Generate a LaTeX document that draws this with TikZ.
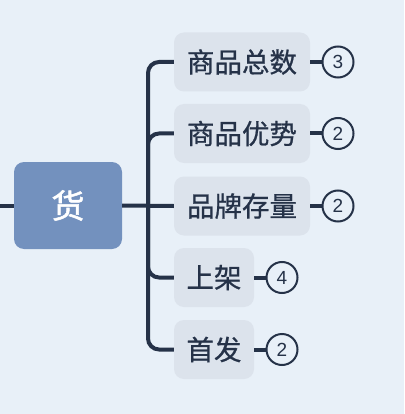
\documentclass[tikz,border=0pt]{standalone}
\usepackage{fontspec}
\newfontfamily\cjk{Noto Sans CJK SC}
\newfontfamily\cjkm[FakeBold=0.8]{Noto Sans CJK SC}
\newfontfamily\cjkb[FakeBold=1.6]{Noto Sans CJK SC}
\newfontfamily\digits{Liberation Sans}
\definecolor{bgc}{RGB}{232,240,248}
\definecolor{mainc}{RGB}{115,145,190}
\definecolor{childc}{RGB}{220,227,236}
\definecolor{inkc}{RGB}{37,50,72}
\tikzset{
  mainbox/.style={fill=mainc, rounded corners=10pt, minimum width=108pt, minimum height=87pt, inner sep=0pt, text=white, font=\cjkb\fontsize{33}{33}\selectfont},
  childbox/.style={fill=childc, rounded corners=10pt, minimum height=59pt, inner sep=0pt, text=inkc, font=\cjkm\fontsize{27.5}{27.5}\selectfont},
  countc/.style={circle, draw=inkc, line width=2pt, fill=bgc, minimum size=31pt, inner sep=0pt, text=inkc, font=\digits\fontsize{19}{19}\selectfont},
  link/.style={draw=inkc, line width=4pt},
}
\begin{document}
\begin{tikzpicture}[x=1pt,y=-1pt]
\fill[bgc] (0,0) rectangle (404,414);
\useasboundingbox (0,0) rectangle (404,414);
\node[mainbox] (main) at (68,205.5) {货};
\node[childbox, minimum width=136pt] (c1) at (242,62) {商品总数};
\node[childbox, minimum width=136pt] (c2) at (242,133.5) {商品优势};
\node[childbox, minimum width=136pt] (c3) at (242,206) {品牌存量};
\node[childbox, minimum width=80pt] (c4) at (214,277.5) {上架};
\node[childbox, minimum width=80pt] (c5) at (214,349.5) {首发};
\node[countc] (n1) at (338,62) {3};
\node[countc] (n2) at (338,133.5) {2};
\node[countc] (n3) at (338,206) {2};
\node[countc] (n4) at (282,277.5) {4};
\node[countc] (n5) at (282,349.5) {2};
\coordinate (stub) at (0,205.5);
\coordinate (trunk) at (148,206);
\draw[link] (stub) -- (main.west);
\draw[link] (main.east) -- (c3.west);
\draw[link, rounded corners=11pt] (trunk) |- (c1.west);
\draw[link, rounded corners=11pt] (trunk) |- (c2.west);
\draw[link, rounded corners=11pt] (trunk) |- (c4.west);
\draw[link, rounded corners=11pt] (trunk) |- (c5.west);
\foreach \i in {1,...,5} { \draw[link] (c\i.east) -- (n\i.west); }
\end{tikzpicture}
\end{document}
